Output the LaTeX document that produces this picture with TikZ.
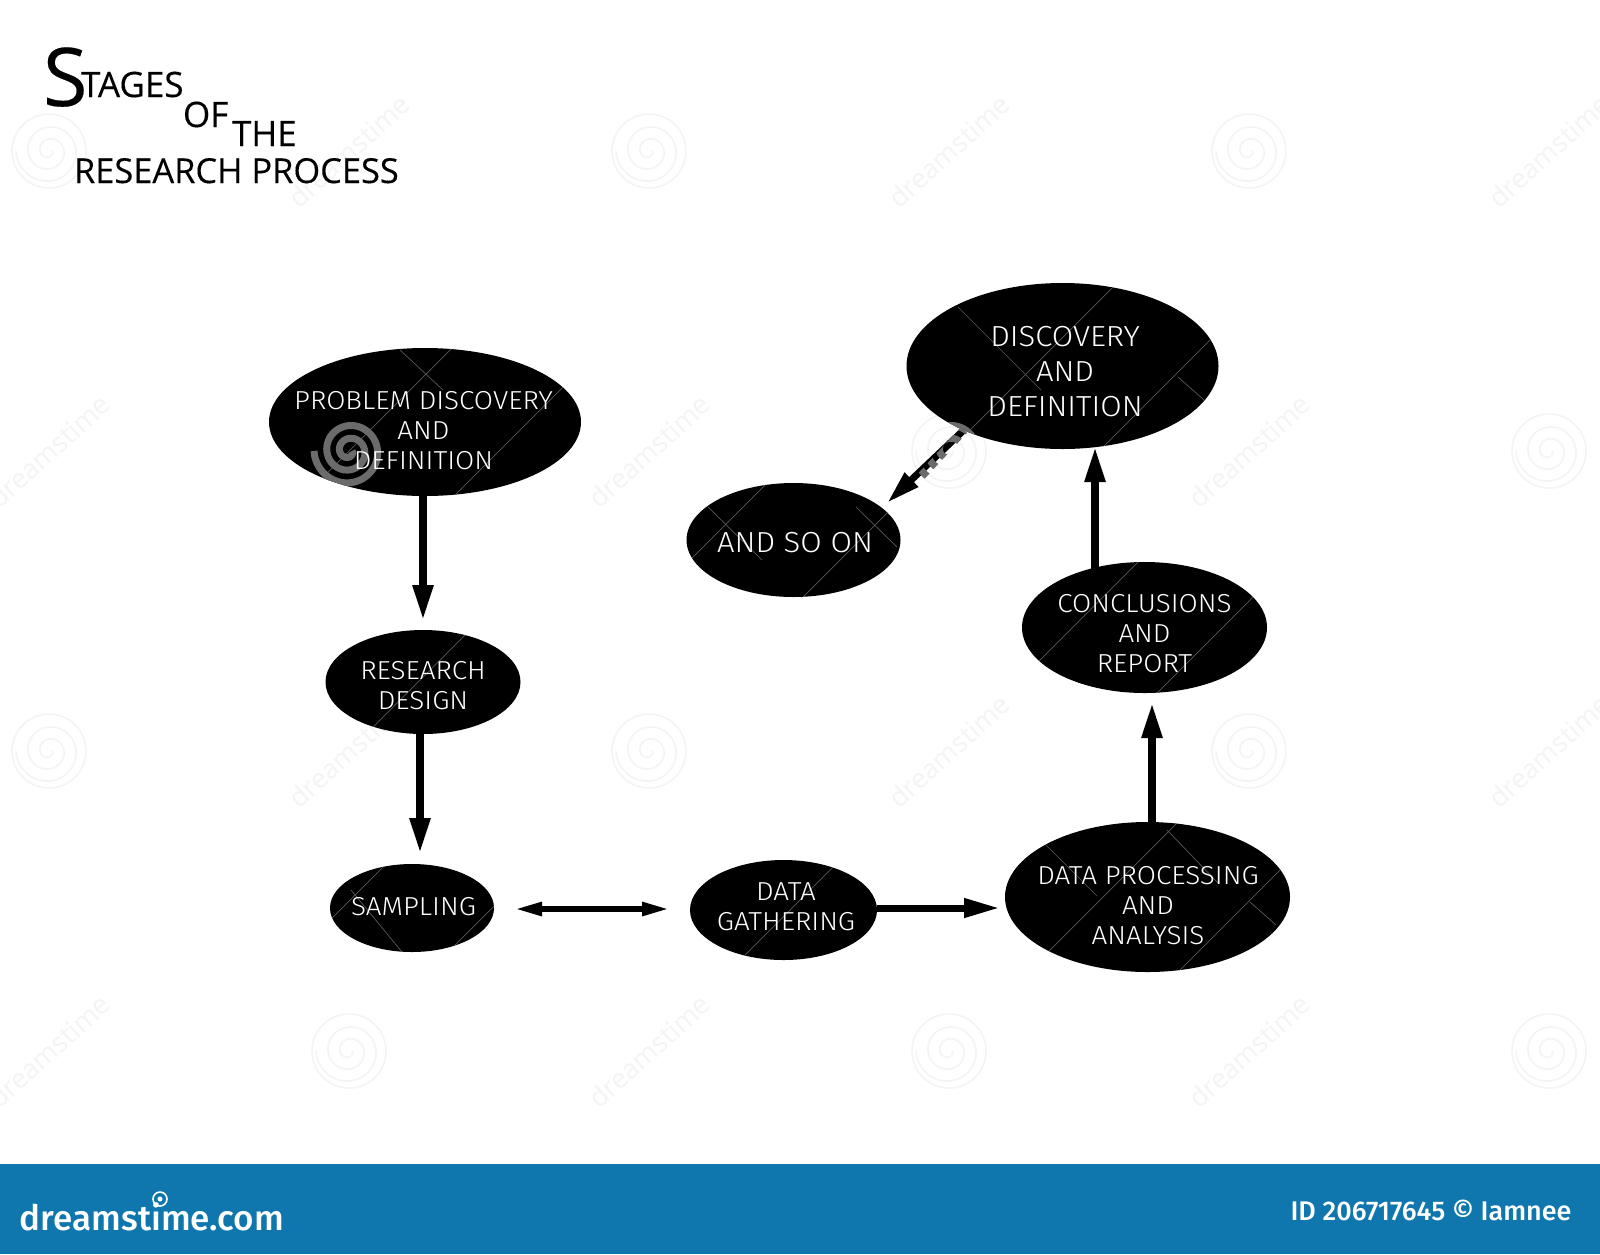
\documentclass[tikz,border=0pt]{standalone}
\usepackage{fontspec}
\usetikzlibrary{arrows.meta,shapes.geometric,calc}
\setmainfont{Open Sans}
\newfontfamily\titlefont[FakeBold=0.25]{Open Sans}
\newfontfamily\nodefont[FakeStretch=1.07]{Fira Sans Light}
\newfontfamily\idfont{Fira Sans Medium}
\definecolor{band}{HTML}{0F77AE}
% centred text block inside an oval: dx, dy (px downward), size, baseline, text
\newcommand\ovaltext[5]{\makebox[0pt]{\hspace*{#1}\hspace*{#1}\raisebox{\dimexpr-#2-9pt}[0pt][0pt]{\fontsize{#3}{#4}\selectfont\nodefont\begin{tabular}{@{}c@{}}#5\end{tabular}}}}
\newcommand\spiralat[4]{\draw[#4,domain=0:900,samples=90,smooth,variable=\t] plot ({#1+(3+\t/900*#3)*cos(\t)},{#2+(3+\t/900*#3)*sin(\t)});}
\newcommand\wmlines{%
 \foreach \s in {800,950,1100,1250,1400,1550,1700,1850,2000,2150}{\draw[wmline] (\s-1000,1000) -- (\s,0);}
 \draw[wmline] (400,350) -- (443,390) (958,307) -- (1041,390) (1178,377) -- (1204,400)
  (708,507) -- (762,560) (856,507) -- (897,547) (351,890) -- (402,952)
  (1046,845) -- (1097,896) (1167,830) -- (1218,883) (1250,902) -- (1276,925);
 \spiralat{349}{451}{32}{wmover}
 \spiralat{949}{451}{32}{wmover}
}
\tikzset{
 x=1pt,y=-1pt,
 oval/.style={ellipse,fill=black,draw=none,inner sep=0pt,outer sep=0pt,text=white,align=center},
 ovalat/.style 2 args={oval,at={(#1,#2)},path picture={\pgftransformshift{\pgfpoint{-#1pt}{#2pt}}\wmlines}},
 wmline/.style={black!65,line width=0.7pt},
 wmover/.style={black!58,line width=7pt},
 wmfaint/.style={gray!9,line width=1.6pt},
 wmword/.style={gray!9,font=\fontsize{27}{27}\selectfont,rotate=42},
 conn/.style={line width=8pt,-{Triangle[length=36pt,width=19pt]}},
 dblconn/.style={line width=5.5pt,{Triangle[length=27pt,width=13pt]}-{Triangle[length=27pt,width=13pt]}},
 title/.style={anchor=base west,inner sep=0pt,outer sep=0pt},
}
\begin{document}
\begin{tikzpicture}
\useasboundingbox (0,0) rectangle (1600,1254);
\fill[white] (0,0) rectangle (1600,1254);
% faint watermark
\foreach \a/\b in {49/151,649/151,1249/151,949/451,1549/451,49/751,649/751,1249/751,349/1051,949/1051,1549/1051}{
 \spiralat{\a}{\b}{30}{wmfaint}
 \draw[wmfaint] (\a,\b) circle (37pt);
}
\foreach \a/\b in {349/151,949/151,1549/151,49/451,649/451,1249/451,349/751,949/751,1549/751,49/1051,649/1051,1249/1051}{
 \node[wmword] (w\a\b) at (\a,\b) {dreamstime};
}
% band
\fill[band] (0,1164) rectangle (1600,1254);
\node[text=white,inner sep=0pt] (brand) at (152,1217) {\resizebox{264pt}{!}{\fontsize{36}{36}\selectfont\idfont dreamstime.com}};
\draw[white,line width=1.6pt] (160,1199) circle (7pt);
\fill[white] (160,1199) circle (2.5pt);
\node[text=white,inner sep=0pt] (idline) at (1431,1210) {\resizebox{281pt}{!}{\fontsize{25}{25}\selectfont\idfont ID 206717645 © Iamnee}};
% title
\node[title,font=\fontsize{81}{81}\selectfont\titlefont] (ts) at (43,106) {S};
\node[title,font=\fontsize{35}{35}\selectfont\titlefont] (tt) at (81,97) {TAGES};
\node[title,font=\fontsize{35}{35}\selectfont\titlefont] (tof) at (183,127) {OF};
\node[title,font=\fontsize{35}{35}\selectfont\titlefont] (tthe) at (232,146) {THE};
\node[title,font=\fontsize{34.4}{35}\selectfont\titlefont] (trp) at (74,183) {RESEARCH PROCESS};
% ovals
\node[ovalat={425}{422},minimum width=312pt,minimum height=148pt] (e1) {\ovaltext{-1.5pt}{9pt}{26}{30}{PROBLEM DISCOVERY\\AND\\DEFINITION}};
\node[ovalat={423}{682},minimum width=195pt,minimum height=104pt] (e2) {\ovaltext{0pt}{4pt}{26}{30}{RESEARCH\\DESIGN}};
\node[ovalat={412}{908},minimum width=164pt,minimum height=88pt] (e3) {\ovaltext{1.5pt}{-1pt}{26}{30}{SAMPLING}};
\node[ovalat={783.5}{910},minimum width=187pt,minimum height=100pt] (e4) {\ovaltext{2.5pt}{-3pt}{26}{30}{DATA\\GATHERING}};
\node[ovalat={1147.5}{897},minimum width=285pt,minimum height=150pt] (e5) {\ovaltext{0.5pt}{9pt}{26}{30}{DATA PROCESSING\\AND\\ANALYSIS}};
\node[ovalat={1144.5}{627.5},minimum width=245pt,minimum height=131pt] (e6) {\ovaltext{0pt}{6.5pt}{26}{30}{CONCLUSIONS\\AND\\REPORT}};
\node[ovalat={1062.5}{366},minimum width=312pt,minimum height=166pt] (e7) {\ovaltext{2.5pt}{6pt}{29}{35}{DISCOVERY\\AND\\DEFINITION}};
\node[ovalat={793.5}{540},minimum width=214pt,minimum height=114pt] (e8) {\ovaltext{1.5pt}{3pt}{29}{35}{AND SO ON}};
% connectors
\draw[conn,shorten >=9pt] ([yshift=2pt]e2.north |- e1.south) -- (e2.north);
\draw[conn,shorten >=10pt] ([xshift=-3pt,yshift=2pt]e2.south) -- ([xshift=-3pt]e2.south |- e3.north);
\draw[dblconn] ([xshift=21pt]e3.east |- 0,909) -- ([xshift=-21pt]e4.west |- 0,909);
\draw[conn,line width=7pt,-{Triangle[length=36pt,width=18pt]},shorten >=5pt] (e4.east |- 0,908) -- (e5.west |- 0,908);
\draw[conn,shorten >=9pt] ([xshift=7.5pt,yshift=-3pt]e6.south |- e5.north) -- ([xshift=7.5pt]e6.south);
\draw[conn,shorten >=-3pt] ([xshift=-49.5pt,yshift=-8pt]e6.north) -- ([xshift=-49.5pt]e6.north |- e7.south);
\draw[conn,line width=7pt,-{Triangle[length=34pt,width=18pt]},shorten >=7pt] (e7.213) -- (e8.20);
% watermark over the diagonal shaft
\begin{scope}
\clip (961,427) -- (967,433) -- (917,487) -- (911,481) -- cycle;
\spiralat{949}{451}{32}{wmover}
\end{scope}
\end{tikzpicture}
\end{document}
